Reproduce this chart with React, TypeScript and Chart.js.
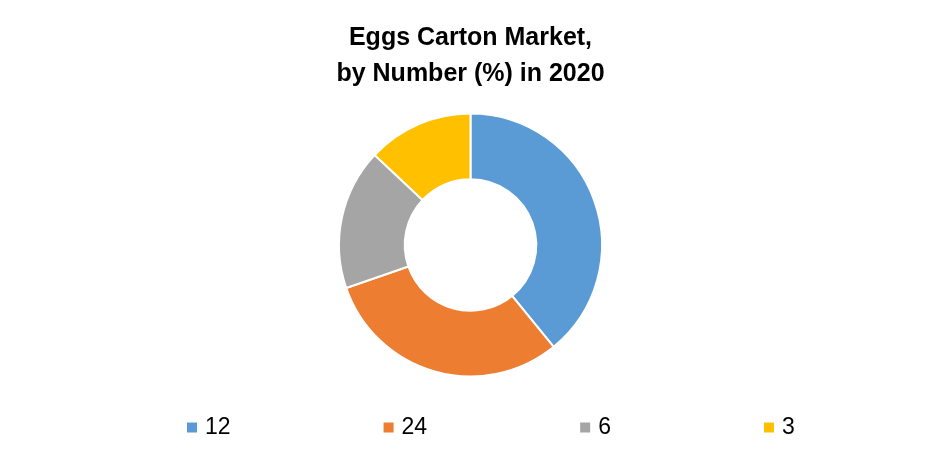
import React, { useEffect, useRef } from "react";
import { Chart, registerables } from "chart.js";

Chart.register(...registerables);

const titleLines = ["Eggs Carton Market,", "by Number (%) in 2020"];
const categories = ["12", "24", "6", "3"];
const shares = [39.1, 30.6, 17.3, 13.0];
const colors = ["#5B9BD5", "#ED7D31", "#A5A5A5", "#FFC000"];

const spreadLegend = {
  id: "spreadLegend",
  afterDraw(chart: any, _args: any, opts: any) {
    const ctx = chart.ctx;
    const labels: string[] = chart.data.labels;
    const ds = chart.data.datasets[0];
    ctx.save();
    ctx.font = opts.font;
    ctx.textBaseline = "middle";
    ctx.textAlign = "left";
    let x = opts.startX;
    labels.forEach((lab, i) => {
      ctx.fillStyle = ds.backgroundColor[i];
      ctx.fillRect(x, opts.y - opts.box / 2, opts.box, opts.box);
      ctx.fillStyle = opts.color;
      ctx.fillText(lab, x + opts.textOffset, opts.y);
      const w = ctx.measureText(lab).width;
      x += opts.textOffset + w + opts.gap;
    });
    ctx.restore();
  },
};

export default function App() {
  const ref = useRef<HTMLCanvasElement | null>(null);
  useEffect(() => {
    if (!ref.current) return;
    const chart = new Chart(ref.current, {
      type: "doughnut",
      data: {
        labels: categories,
        datasets: [
          {
            data: shares,
            backgroundColor: colors,
            borderColor: "#ffffff",
            borderWidth: 2,
            radius: 131.5,
          } as any,
        ],
      },
      options: {
        responsive: false,
        animation: false,
        cutout: "50%",
        layout: { padding: { top: 0, bottom: 57.5, left: 0, right: 0 } },
        plugins: {
          legend: { display: false },
          tooltip: { enabled: false },
          title: {
            display: true,
            text: titleLines,
            color: "#000000",
            font: { family: "'Liberation Sans', Arial, sans-serif", size: 25, weight: "bold", lineHeight: 36 / 25 },
            padding: { top: 20.5, bottom: 0 },
          },
          spreadLegend: {
            font: "23px 'Liberation Sans', Arial, sans-serif",
            color: "#000000",
            startX: 187,
            y: 427.5,
            box: 10,
            textOffset: 18,
            gap: 153,
          },
        } as any,
      },
      plugins: [spreadLegend],
    });
    return () => chart.destroy();
  }, []);
  return (
    <div style={{ position: "fixed", left: 0, top: 0, width: 941, height: 455, background: "#ffffff" }}>
      <canvas ref={ref} width={941} height={455} style={{ width: 941, height: 455, display: "block" }} />
    </div>
  );
}
